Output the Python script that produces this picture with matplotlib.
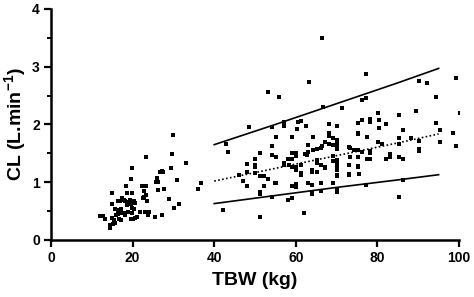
import matplotlib
matplotlib.use("Agg")
import matplotlib.pyplot as plt
from matplotlib.ticker import MultipleLocator

plt.rcParams["font.family"] = ["Liberation Sans", "DejaVu Sans"]
plt.rcParams["font.weight"] = "bold"
plt.rcParams["mathtext.fontset"] = "custom"
plt.rcParams["mathtext.rm"] = "Liberation Sans:bold"
plt.rcParams["mathtext.default"] = "rm"

# TBW (kg) and CL (L/min), children
child_tbw = [12.1, 12.7, 13.3, 14.4, 14.5, 14.4, 15.0, 15.5, 15.2, 15.7, 15.0, 15.0, 15.7,
             16.5, 17.1, 16.5, 17.1, 16.0, 16.6, 17.2, 17.3, 17.0, 16.3, 17.8, 18.1, 18.8,
             17.8, 18.1, 18.8, 18.5, 18.6, 18.6, 19.9, 19.6, 19.9, 19.4, 19.7, 20.4, 20.7,
             19.6, 19.8, 20.3, 19.8, 19.5, 20.0, 20.6, 21.0, 21.9, 22.2, 22.9, 23.2, 22.9,
             22.9, 23.2, 22.5, 23.5, 23.1, 23.7, 24.0, 23.7, 23.2, 25.5, 26.0, 25.7, 26.3,
             26.3, 27.1, 26.8, 27.5, 27.8, 27.3, 28.8, 29.4, 29.7, 29.9, 30.1, 30.9, 31.4,
             33.0, 36.7, 36.1]
child_cl = [0.42, 0.42, 0.37, 0.26, 0.24, 0.21, 0.38, 0.35, 0.27, 0.29, 0.82, 0.63, 0.53,
            0.52, 0.54, 0.45, 0.47, 0.43, 0.36, 0.35, 0.72, 0.68, 0.67, 0.70, 0.68, 0.66,
            0.46, 0.43, 0.48, 0.94, 0.81, 0.60, 1.25, 1.05, 0.82, 0.70, 0.66, 0.68, 0.64,
            0.62, 0.56, 0.54, 0.47, 0.36, 0.37, 0.38, 0.39, 0.48, 0.94, 0.94, 0.94, 0.84,
            0.75, 0.77, 0.72, 0.67, 0.49, 0.49, 0.48, 0.43, 1.43, 0.39, 1.08, 1.01, 1.01,
            0.87, 1.19, 1.17, 1.17, 0.88, 0.43, 0.71, 1.25, 1.49, 1.81, 0.55, 1.04, 0.63,
            1.33, 0.99, 0.88]

# adults
adult_tbw = [42.8, 43.4, 42.1, 48.6, 53.1, 55.8, 54.1, 55.1, 54.1, 54.1, 55.1, 51.1, 50.1,
             48.1, 50.1, 50.1, 48.1, 50.1, 46.1, 51.1, 52.1, 53.1, 47.1, 55.0, 48.1, 52.1,
             51.1, 51.1, 54.1, 51.1,
             66.3, 63.2, 66.6, 71.2, 76.2, 77.3, 77.3, 57.2, 57.2, 60.6, 61.3, 60.2, 62.4,
             68.1, 68.1, 68.2, 70.1, 69.2, 75.3, 76.2, 75.3, 78.1, 78.2, 80.3, 80.3, 82.1,
             80.2, 85.3, 89.4, 90.2, 92.2, 99.3, 94.4, 100.2, 94.4, 95.3, 86.2,
             59.1, 64.3, 75.3, 77.4, 80.2, 81.1, 85.2, 85.2, 88.2, 90.2, 90.2, 90.2, 95.3,
             98.5, 99.3,
             69.0, 70.2, 70.2, 70.2, 70.2, 69.2, 68.2, 67.2, 66.3, 66.2, 65.1, 64.1, 63.1,
             63.1, 62.3, 62.7, 60.0, 59.1, 60.0, 58.2, 59.1, 57.2, 57.2, 58.3, 59.1, 60.0,
             60.0, 61.2, 61.2, 61.2, 64.0, 64.0, 65.1, 65.1, 65.1, 66.2, 67.2, 67.2, 69.0,
             70.2, 70.2, 70.2, 70.2, 70.2, 70.2, 70.2, 73.1, 75.2, 75.3, 75.4, 73.1, 73.1,
             69.2, 73.3, 75.2, 76.1, 74.3, 73.3, 75.2, 77.4, 78.2, 78.1, 78.2, 83.1, 83.1,
             82.1, 85.2, 86.2, 86.2, 85.3, 77.1,
             55.1, 59.0, 60.0, 60.0, 63.1, 63.9, 66.1, 69.2, 70.2, 70.2, 63.9, 63.9, 66.1,
             58.0, 59.1, 62.1, 73.1]
adult_cl = [1.67, 1.52, 0.52, 1.95, 2.56, 2.48, 1.95, 1.78, 1.62, 1.47, 1.43, 1.51, 1.41,
            1.32, 1.29, 1.26, 1.17, 1.16, 1.13, 1.10, 1.10, 1.06, 1.02, 0.99, 0.93, 0.93,
            0.83, 0.79, 0.75, 0.40,
            3.49, 2.74, 2.31, 2.29, 2.42, 2.45, 2.87, 2.04, 1.97, 2.04, 2.06, 1.92, 1.97,
            2.01, 1.85, 1.80, 1.97, 1.76, 2.02, 2.07, 1.85, 2.09, 2.05, 2.07, 1.93, 2.01,
            2.19, 2.16, 2.23, 2.75, 2.71, 2.81, 2.48, 2.20, 2.03, 1.90, 1.90,
            1.78, 1.79, 1.83, 1.78, 1.70, 1.66, 1.77, 1.67, 1.76, 1.72, 1.57, 1.54, 1.70,
            1.85, 1.62,
            1.76, 1.73, 1.67, 1.62, 1.57, 1.64, 1.66, 1.69, 1.63, 1.59, 1.57, 1.55, 1.64,
            1.53, 1.49, 1.47, 1.51, 1.50, 1.45, 1.40, 1.40, 1.34, 1.30, 1.30, 1.26, 1.26,
            1.21, 1.30, 1.16, 1.13, 1.22, 1.17, 1.18, 1.39, 1.33, 1.30, 1.27, 1.24, 1.36,
            1.33, 1.39, 1.30, 1.24, 1.21, 1.13, 1.10, 1.30, 1.28, 1.27, 1.14, 1.14, 1.13,
            1.45, 1.60, 1.56, 1.53, 1.55, 1.43, 1.44, 1.40, 1.54, 1.51, 1.41, 1.48, 1.43,
            1.41, 1.43, 1.41, 1.04, 0.75, 0.95,
            0.99, 0.94, 0.97, 0.92, 0.99, 0.95, 0.99, 0.99, 0.89, 0.83, 0.83, 0.80, 0.84,
            0.69, 0.72, 0.47, 1.61]

# prediction lines (median and interval)
line_tbw = [40, 55, 70, 85, 95]
upper_cl = [1.65, 2.00, 2.36, 2.72, 2.97]
median_cl = [1.02, 1.24, 1.46, 1.68, 1.835]
lower_cl = [0.63, 0.77, 0.91, 1.04, 1.13]

fig = plt.figure(figsize=(4.74, 2.97), dpi=100)
ax = fig.add_axes([0.1076, 0.192, 0.8608, 0.778])

ax.scatter(child_tbw, child_cl, marker="s", s=5, color="black", linewidths=0)
ax.scatter(adult_tbw, adult_cl, marker="s", s=5, color="black", linewidths=0)
ax.plot(line_tbw, upper_cl, color="black", linewidth=1.2)
ax.plot(line_tbw, median_cl, color="black", linewidth=1.2, linestyle=(0, (1, 1.4)))
ax.plot(line_tbw, lower_cl, color="black", linewidth=1.2)

ax.set_xlim(0, 100)
ax.set_ylim(0, 4)
ax.xaxis.set_major_locator(MultipleLocator(20))
ax.yaxis.set_major_locator(MultipleLocator(1))
ax.yaxis.set_minor_locator(MultipleLocator(0.5))

for side in ["top", "right"]:
    ax.spines[side].set_visible(False)
for side in ["left", "bottom"]:
    ax.spines[side].set_linewidth(1.8)

ax.tick_params(axis="both", which="major", length=5, width=1.6, labelsize=10, pad=3)
ax.tick_params(axis="y", which="minor", length=3, width=1.4)
for lab in ax.get_xticklabels() + ax.get_yticklabels():
    lab.set_fontweight("bold")

ax.set_xlabel("TBW (kg)", fontsize=14, fontweight="bold", labelpad=5)
ax.set_ylabel(r"CL (L.min$^{-1}$)", fontsize=14, fontweight="bold", labelpad=3)

fig.savefig("out.png", dpi=100)
